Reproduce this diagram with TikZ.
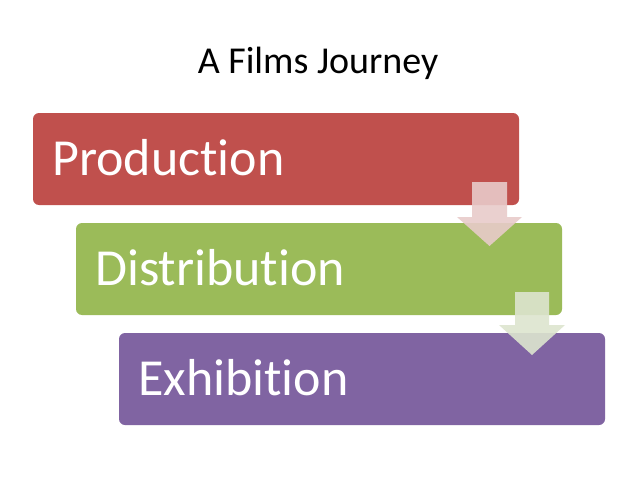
\documentclass[tikz,border=0pt]{standalone}
\usepackage{fontspec}
\setmainfont{Carlito}[Ligatures=NoCommon]
\definecolor{prodred}{HTML}{C0504D}
\definecolor{distgreen}{HTML}{9BBB59}
\definecolor{exhpurple}{HTML}{8064A2}
\definecolor{arrowred}{HTML}{E8CBCA}
\definecolor{arrowgreen}{HTML}{DDE5CF}
\begin{document}
\begin{tikzpicture}[x=1pt,y=-1pt,
  stagebox/.style={rounded corners=6pt, draw=none},
  stagetext/.style={anchor=base west, text=white, font=\fontsize{52}{62}\selectfont, inner sep=0pt},
  flowarrow/.style={draw=none, fill opacity=0.9}]
\useasboundingbox (0,0) rectangle (638,479);
\fill[white] (0,0) rectangle (638,479);
\node[anchor=base, font=\fontsize{38}{46}\selectfont, inner sep=0pt] (title) at (318,73) {A Films Journey};
\fill[stagebox, prodred] (33,113) rectangle (519,205);
\node[stagetext] (prod) at (52,175) {Production};
\fill[stagebox, distgreen] (76,223) rectangle (562,315);
\node[stagetext] (dist) at (95,285) {Distribution};
\fill[stagebox, exhpurple] (119,333) rectangle (605,425);
\node[stagetext] (exh) at (138,395) {Exhibition};
\fill[flowarrow, arrowred] (472,182) -- (507,182) -- (507,217) -- (522,217) -- (489.5,246) -- (457,217) -- (472,217) -- cycle;
\fill[flowarrow, arrowgreen] (515,292) -- (549,292) -- (549,325) -- (565,325) -- (532,355) -- (499,325) -- (515,325) -- cycle;
\end{tikzpicture}
\end{document}
